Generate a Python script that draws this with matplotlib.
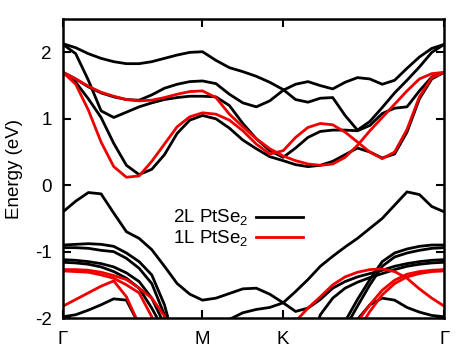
import numpy as np
import matplotlib.pyplot as plt

plt.rcParams['font.family'] = ['Liberation Sans', 'DejaVu Sans']
plt.rcParams['mathtext.fontset'] = 'custom'
plt.rcParams['mathtext.rm'] = 'Liberation Sans'
plt.rcParams['axes.unicode_minus'] = False

# k-path: Gamma - M - K - Gamma
k_nodes = [0.0, 0.577, 0.911, 1.577]
k_labels = ['Γ', 'M', 'K', 'Γ']
k = np.concatenate([np.linspace(0.0, 0.577, 12),
                    np.linspace(0.577, 0.911, 7)[1:],
                    np.linspace(0.911, 1.577, 14)[1:]])

H = -2.5  # below the visible window

# bilayer (2L) bands, eV
cb_2l = [
    [2.13, 2.07, 1.98, 1.91, 1.86, 1.83, 1.83, 1.86, 1.91, 1.96, 2.00, 2.01,
     1.88, 1.77, 1.71, 1.64, 1.55, 1.44,
     1.29, 1.25, 1.31, 1.32, 1.05, 0.83, 0.96, 1.17, 1.39, 1.58, 1.78, 2.00, 2.12],
    [2.12, 1.98, 1.58, 1.12, 1.02, 1.10, 1.18, 1.24, 1.29, 1.32, 1.34, 1.34,
     1.33, 1.20, 0.93, 0.70, 0.52, 0.42,
     0.56, 0.72, 0.81, 0.83, 0.83, 0.82, 0.90, 1.08, 1.16, 1.18, 1.42, 1.63, 1.70],
    [1.70, 1.60, 1.48, 1.39, 1.33, 1.29, 1.28, 1.36, 1.46, 1.52, 1.56, 1.57,
     1.53, 1.37, 1.24, 1.18, 1.27, 1.43,
     1.52, 1.56, 1.50, 1.45, 1.55, 1.62, 1.60, 1.52, 1.58, 1.76, 1.93, 2.06, 2.12],
    [1.70, 1.55, 1.30, 1.02, 0.63, 0.30, 0.16, 0.24, 0.46, 0.78, 0.98, 1.05,
     1.00, 0.86, 0.68, 0.55, 0.43, 0.37,
     0.31, 0.28, 0.30, 0.36, 0.46, 0.56, 0.50, 0.41, 0.47, 0.80, 1.30, 1.60, 1.70],
]
vb_2l = [
    [-0.40, -0.24, -0.11, -0.13, -0.42, -0.70, -0.80, -0.97, -1.22, -1.48, -1.64, -1.73,
     -1.70, -1.63, -1.56, -1.55, -1.64, -1.77,
     -1.90, -1.85, -1.72, -1.55, -1.45, -1.38, -1.33, -1.28, -1.22, -1.18, -1.15, -1.13, -1.12],
    [-1.12, -1.13, -1.15, -1.18, -1.23, -1.32, -1.45, -1.70, -2.10, H, H, H,
     -2.15, -2.02, -1.92, -1.87, -1.84, -1.77,
     -1.60, -1.42, -1.22, -1.07, -0.93, -0.80, -0.65, -0.50, -0.30, -0.10, -0.14, -0.32, -0.40],
    [-0.90, -0.89, -0.88, -0.89, -0.92, -1.02, -1.15, -1.35, -1.80, H, H, H,
     H, H, H, H, H, H,
     H, H, H, H, -2.05, -1.72, -1.42, -1.15, -1.02, -0.96, -0.92, -0.90, -0.90],
    [-0.94, -0.94, -0.95, -0.98, -1.00, -1.10, -1.25, -1.48, -1.95, H, H, H,
     H, H, H, H, H, H,
     H, H, H, H, -2.15, -1.82, -1.50, -1.22, -1.08, -1.02, -0.98, -0.95, -0.94],
    [-1.16, -1.17, -1.19, -1.23, -1.30, -1.40, -1.55, -1.85, -2.20, H, H, H,
     H, H, H, H, H, H,
     H, H, -1.95, -1.70, -1.55, -1.46, -1.39, -1.33, -1.27, -1.22, -1.19, -1.17, -1.16],
    [-1.98, -1.95, -1.88, -1.80, -1.71, -1.73, -2.10, H, H, H, H, H,
     H, H, H, H, H, H,
     H, H, H, H, -2.20, -2.02, -1.80, -1.70, -1.73, -1.84, -1.91, -1.96, -1.98],
]

# monolayer (1L) bands, eV
cb_1l = [
    [1.70, 1.52, 1.13, 0.65, 0.28, 0.12, 0.14, 0.36, 0.62, 0.88, 1.03, 1.09,
     1.07, 0.98, 0.82, 0.62, 0.47, 0.52,
     0.72, 0.87, 0.93, 0.91, 0.80, 0.65, 0.50, 0.40, 0.50, 0.84, 1.33, 1.62, 1.70],
    [1.70, 1.60, 1.49, 1.40, 1.34, 1.29, 1.27, 1.28, 1.32, 1.37, 1.41, 1.42,
     1.32, 1.07, 0.88, 0.70, 0.55, 0.44,
     0.37, 0.32, 0.30, 0.32, 0.42, 0.60, 0.82, 1.02, 1.22, 1.42, 1.60, 1.68, 1.70],
]
vb_1l = [
    [-1.27, -1.27, -1.28, -1.31, -1.36, -1.42, -1.55, -1.70, -1.97, H, H, H,
     H, H, H, H, H, H,
     H, H, H, H, H, -2.05, -1.80, -1.58, -1.43, -1.34, -1.30, -1.28, -1.27],
    [-1.29, -1.30, -1.31, -1.35, -1.40, -1.50, -1.62, -1.98, H, H, H, H,
     H, H, H, H, H, H,
     H, H, H, H, H, -2.20, -1.90, -1.65, -1.48, -1.38, -1.33, -1.30, -1.29],
    [-1.82, -1.72, -1.62, -1.52, -1.44, -1.68, -2.10, H, H, H, H, H,
     H, H, H, H, H, H,
     -2.05, -1.85, -1.68, -1.50, -1.38, -1.31, -1.27, -1.26, -1.30, -1.40, -1.56, -1.70, -1.82],
]

fs = 13.5
fig = plt.figure(figsize=(4.74, 3.55), dpi=100)
ax = fig.add_axes([0.133, 0.104, 0.804, 0.842])

for band in cb_2l + vb_2l:
    ax.plot(k, band, color='black', lw=2.0)
for band in cb_1l + vb_1l:
    ax.plot(k, band, color='#ee0000', lw=2.0)

ax.set_xlim(k_nodes[0], k_nodes[-1])
ax.set_ylim(-2, 2.5)
ax.set_xticks(k_nodes)
ax.set_xticklabels(k_labels)
ax.set_yticks([-2, -1, 0, 1, 2])
ax.tick_params(direction='in', top=True, right=True, length=6, width=1.5,
               labelsize=fs)
ax.tick_params(axis='x', pad=9)
ax.tick_params(axis='y', pad=8)
for sp in ax.spines.values():
    sp.set_linewidth(1.8)
ax.set_ylabel('Energy (eV)', fontsize=fs, labelpad=9)

# legend: text first, line after
h2, = ax.plot([], [], color='black', lw=2.0)
h1, = ax.plot([], [], color='#ee0000', lw=2.0)
ax.legend([h2, h1], ['2L PtSe$_2$', '1L PtSe$_2$'], markerfirst=False,
          frameon=False, fontsize=fs, handlelength=2.5, handletextpad=0.4,
          labelspacing=0.0, loc='center', bbox_to_anchor=(0.46, 0.30))

fig.savefig('out.png', dpi=100)
